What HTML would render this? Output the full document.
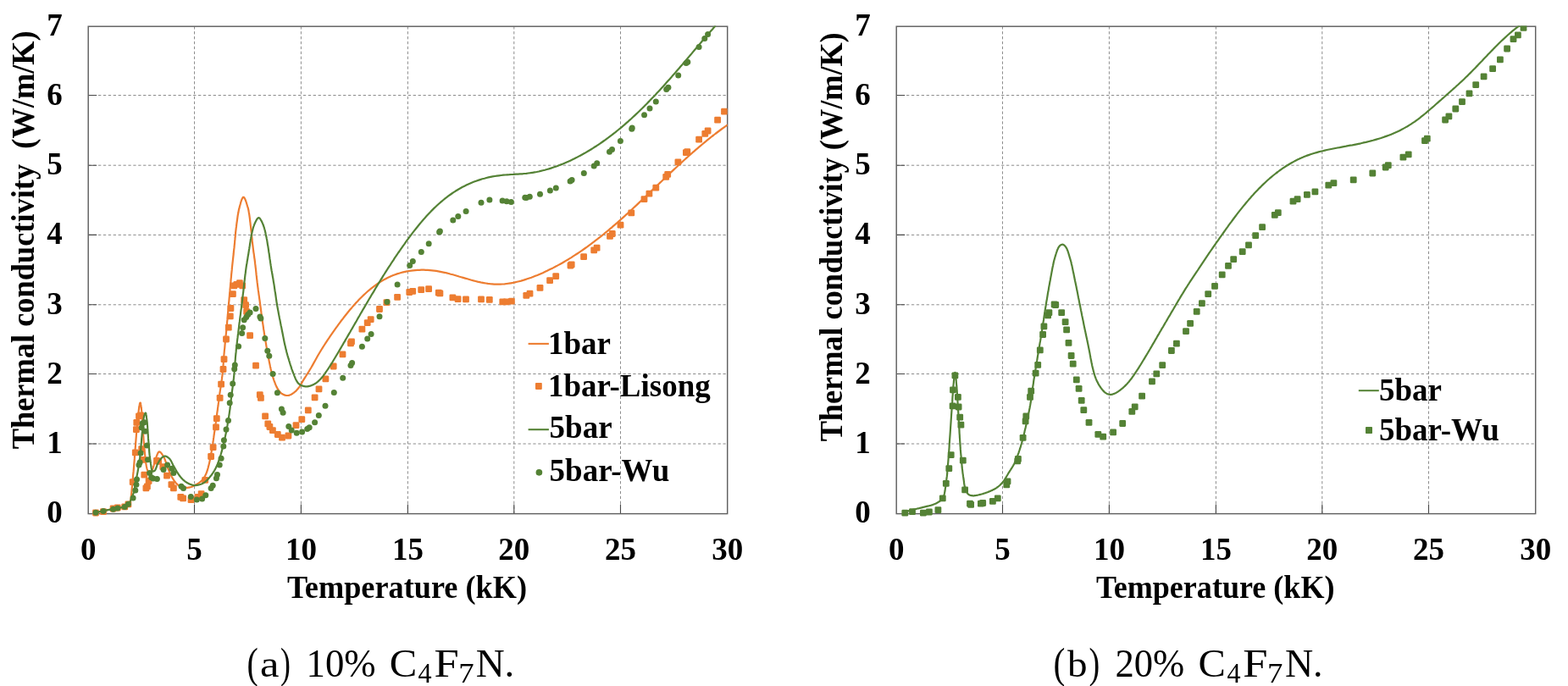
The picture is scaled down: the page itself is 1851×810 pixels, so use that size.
<!DOCTYPE html>
<html><head><meta charset="utf-8"><title>Thermal conductivity</title>
<style>html,body{margin:0;padding:0;background:#fff;width:1851px;height:810px;overflow:hidden}svg{display:block}</style>
</head><body>
<svg width="1851" height="810" viewBox="0 0 1851 810">
<defs><clipPath id="cl"><rect x="104.2" y="30.5" width="754.5" height="581.4"/></clipPath><clipPath id="cr"><rect x="1058.2" y="30.5" width="754.5" height="581.4"/></clipPath></defs>
<rect width="1851" height="810" fill="#fff"/>
<g font-family="'Liberation Serif', serif" font-weight="bold" fill="#000">
<path d="M104.2,524.00 H858.7 M104.2,441.50 H858.7 M104.2,359.80 H858.7 M104.2,277.40 H858.7 M104.2,195.20 H858.7 M104.2,112.50 H858.7 M229.50,31.2 V606.6 M355.40,31.2 V606.6 M481.40,31.2 V606.6 M606.80,31.2 V606.6 M732.50,31.2 V606.6" stroke="#8c8c8c" stroke-width="1" stroke-dasharray="3.3 2.6" fill="none"/>
<path d="M104.2,524.00 h10 M104.2,441.50 h10 M104.2,359.80 h10 M104.2,277.40 h10 M104.2,195.20 h10 M104.2,112.50 h10 M229.50,606.6 v-11 M355.40,606.6 v-11 M481.40,606.6 v-11 M606.80,606.6 v-11 M732.50,606.6 v-11" stroke="#474747" stroke-width="1.1" fill="none"/>
<rect x="104.2" y="31.2" width="754.5" height="575.4" fill="none" stroke="#606060" stroke-width="1.45"/>
<g font-size="37"><text x="64.6" y="617.4" text-anchor="middle">0</text><text x="64.6" y="535.0" text-anchor="middle">1</text><text x="64.6" y="452.5" text-anchor="middle">2</text><text x="64.6" y="370.8" text-anchor="middle">3</text><text x="64.6" y="288.4" text-anchor="middle">4</text><text x="64.6" y="206.2" text-anchor="middle">5</text><text x="64.6" y="123.5" text-anchor="middle">6</text><text x="64.6" y="42.2" text-anchor="middle">7</text><text x="104.2" y="660.6" text-anchor="middle">0</text><text x="229.5" y="660.6" text-anchor="middle">5</text><text x="355.4" y="660.6" text-anchor="middle">10</text><text x="481.4" y="660.6" text-anchor="middle">15</text><text x="606.8" y="660.6" text-anchor="middle">20</text><text x="732.5" y="660.6" text-anchor="middle">25</text><text x="858.7" y="660.6" text-anchor="middle">30</text></g>
<g clip-path="url(#cl)">
<g fill="#ED7D31"><rect x="109.1" y="601.6" width="7.8" height="7.8" rx="1.3"/><rect x="118.1" y="600.2" width="7.8" height="7.8" rx="1.3"/><rect x="129.7" y="596.6" width="7.8" height="7.8" rx="1.3"/><rect x="134.9" y="595.6" width="7.8" height="7.8" rx="1.3"/><rect x="143.3" y="594.5" width="7.8" height="7.8" rx="1.3"/><rect x="147.5" y="591.4" width="7.8" height="7.8" rx="1.3"/><rect x="152.8" y="565.2" width="7.8" height="7.8" rx="1.3"/><rect x="155.9" y="530.5" width="7.8" height="7.8" rx="1.3"/><rect x="157.0" y="503.3" width="7.8" height="7.8" rx="1.3"/><rect x="157.4" y="494.9" width="7.8" height="7.8" rx="1.3"/><rect x="160.1" y="487.5" width="7.8" height="7.8" rx="1.3"/><rect x="162.2" y="486.5" width="7.8" height="7.8" rx="1.3"/><rect x="163.3" y="526.3" width="7.8" height="7.8" rx="1.3"/><rect x="165.4" y="538.9" width="7.8" height="7.8" rx="1.3"/><rect x="166.4" y="556.8" width="7.8" height="7.8" rx="1.3"/><rect x="168.5" y="572.5" width="7.8" height="7.8" rx="1.3"/><rect x="170.0" y="570.4" width="7.8" height="7.8" rx="1.3"/><rect x="171.7" y="564.1" width="7.8" height="7.8" rx="1.3"/><rect x="181.1" y="540.0" width="7.8" height="7.8" rx="1.3"/><rect x="183.2" y="541.0" width="7.8" height="7.8" rx="1.3"/><rect x="188.4" y="547.3" width="7.8" height="7.8" rx="1.3"/><rect x="193.1" y="557.8" width="7.8" height="7.8" rx="1.3"/><rect x="198.5" y="568.3" width="7.8" height="7.8" rx="1.3"/><rect x="201.0" y="572.5" width="7.8" height="7.8" rx="1.3"/><rect x="209.4" y="583.0" width="7.8" height="7.8" rx="1.3"/><rect x="212.2" y="584.5" width="7.8" height="7.8" rx="1.3"/><rect x="221.6" y="586.2" width="7.8" height="7.8" rx="1.3"/><rect x="229.5" y="583.0" width="7.8" height="7.8" rx="1.3"/><rect x="233.7" y="579.2" width="7.8" height="7.8" rx="1.3"/><rect x="238.3" y="563.0" width="7.8" height="7.8" rx="1.3"/><rect x="245.2" y="535.1" width="7.8" height="7.8" rx="1.3"/><rect x="247.7" y="524.2" width="7.8" height="7.8" rx="1.3"/><rect x="251.1" y="500.5" width="7.8" height="7.8" rx="1.3"/><rect x="251.9" y="490.2" width="7.8" height="7.8" rx="1.3"/><rect x="255.7" y="465.9" width="7.8" height="7.8" rx="1.3"/><rect x="257.2" y="449.7" width="7.8" height="7.8" rx="1.3"/><rect x="259.6" y="432.1" width="7.8" height="7.8" rx="1.3"/><rect x="260.6" y="420.3" width="7.8" height="7.8" rx="1.3"/><rect x="263.1" y="396.6" width="7.8" height="7.8" rx="1.3"/><rect x="265.9" y="382.8" width="7.8" height="7.8" rx="1.3"/><rect x="267.9" y="369.4" width="7.8" height="7.8" rx="1.3"/><rect x="268.5" y="360.1" width="7.8" height="7.8" rx="1.3"/><rect x="271.0" y="343.3" width="7.8" height="7.8" rx="1.3"/><rect x="272.4" y="333.5" width="7.8" height="7.8" rx="1.3"/><rect x="275.4" y="332.0" width="7.8" height="7.8" rx="1.3"/><rect x="279.0" y="330.2" width="7.8" height="7.8" rx="1.3"/><rect x="282.3" y="333.5" width="7.8" height="7.8" rx="1.3"/><rect x="284.3" y="350.2" width="7.8" height="7.8" rx="1.3"/><rect x="286.2" y="356.2" width="7.8" height="7.8" rx="1.3"/><rect x="287.2" y="364.1" width="7.8" height="7.8" rx="1.3"/><rect x="291.2" y="392.3" width="7.8" height="7.8" rx="1.3"/><rect x="298.1" y="427.8" width="7.8" height="7.8" rx="1.3"/><rect x="302.9" y="462.3" width="7.8" height="7.8" rx="1.3"/><rect x="304.0" y="465.9" width="7.8" height="7.8" rx="1.3"/><rect x="309.2" y="487.5" width="7.8" height="7.8" rx="1.3"/><rect x="312.4" y="496.5" width="7.8" height="7.8" rx="1.3"/><rect x="314.5" y="500.1" width="7.8" height="7.8" rx="1.3"/><rect x="318.0" y="504.3" width="7.8" height="7.8" rx="1.3"/><rect x="323.9" y="509.1" width="7.8" height="7.8" rx="1.3"/><rect x="329.1" y="512.7" width="7.8" height="7.8" rx="1.3"/><rect x="336.5" y="510.6" width="7.8" height="7.8" rx="1.3"/><rect x="345.6" y="498.3" width="7.8" height="7.8" rx="1.3"/><rect x="352.4" y="491.2" width="7.8" height="7.8" rx="1.3"/><rect x="359.9" y="480.4" width="7.8" height="7.8" rx="1.3"/><rect x="367.7" y="465.5" width="7.8" height="7.8" rx="1.3"/><rect x="372.6" y="455.4" width="7.8" height="7.8" rx="1.3"/><rect x="380.5" y="443.4" width="7.8" height="7.8" rx="1.3"/><rect x="389.8" y="428.6" width="7.8" height="7.8" rx="1.3"/><rect x="400.6" y="414.4" width="7.8" height="7.8" rx="1.3"/><rect x="410.1" y="401.4" width="7.8" height="7.8" rx="1.3"/><rect x="411.1" y="399.4" width="7.8" height="7.8" rx="1.3"/><rect x="423.5" y="384.8" width="7.8" height="7.8" rx="1.3"/><rect x="429.8" y="377.3" width="7.8" height="7.8" rx="1.3"/><rect x="433.8" y="373.3" width="7.8" height="7.8" rx="1.3"/><rect x="444.1" y="361.1" width="7.8" height="7.8" rx="1.3"/><rect x="452.5" y="353.2" width="7.8" height="7.8" rx="1.3"/><rect x="465.2" y="347.0" width="7.8" height="7.8" rx="1.3"/><rect x="479.4" y="341.1" width="7.8" height="7.8" rx="1.3"/><rect x="483.3" y="340.0" width="7.8" height="7.8" rx="1.3"/><rect x="493.3" y="338.3" width="7.8" height="7.8" rx="1.3"/><rect x="502.2" y="337.2" width="7.8" height="7.8" rx="1.3"/><rect x="513.9" y="341.7" width="7.8" height="7.8" rx="1.3"/><rect x="515.5" y="342.5" width="7.8" height="7.8" rx="1.3"/><rect x="530.5" y="347.4" width="7.8" height="7.8" rx="1.3"/><rect x="536.7" y="349.2" width="7.8" height="7.8" rx="1.3"/><rect x="546.1" y="349.4" width="7.8" height="7.8" rx="1.3"/><rect x="564.1" y="349.4" width="7.8" height="7.8" rx="1.3"/><rect x="573.9" y="350.0" width="7.8" height="7.8" rx="1.3"/><rect x="589.4" y="352.5" width="7.8" height="7.8" rx="1.3"/><rect x="593.9" y="352.5" width="7.8" height="7.8" rx="1.3"/><rect x="600.0" y="351.7" width="7.8" height="7.8" rx="1.3"/><rect x="617.4" y="344.9" width="7.8" height="7.8" rx="1.3"/><rect x="621.6" y="342.8" width="7.8" height="7.8" rx="1.3"/><rect x="633.6" y="335.9" width="7.8" height="7.8" rx="1.3"/><rect x="645.2" y="327.2" width="7.8" height="7.8" rx="1.3"/><rect x="652.3" y="322.2" width="7.8" height="7.8" rx="1.3"/><rect x="669.6" y="309.6" width="7.8" height="7.8" rx="1.3"/><rect x="670.8" y="308.4" width="7.8" height="7.8" rx="1.3"/><rect x="685.2" y="299.2" width="7.8" height="7.8" rx="1.3"/><rect x="697.3" y="291.4" width="7.8" height="7.8" rx="1.3"/><rect x="700.7" y="288.8" width="7.8" height="7.8" rx="1.3"/><rect x="716.1" y="275.0" width="7.8" height="7.8" rx="1.3"/><rect x="718.9" y="272.1" width="7.8" height="7.8" rx="1.3"/><rect x="728.6" y="261.8" width="7.8" height="7.8" rx="1.3"/><rect x="741.4" y="247.4" width="7.8" height="7.8" rx="1.3"/><rect x="756.6" y="231.2" width="7.8" height="7.8" rx="1.3"/><rect x="762.5" y="224.7" width="7.8" height="7.8" rx="1.3"/><rect x="770.4" y="217.8" width="7.8" height="7.8" rx="1.3"/><rect x="782.3" y="204.9" width="7.8" height="7.8" rx="1.3"/><rect x="784.3" y="201.9" width="7.8" height="7.8" rx="1.3"/><rect x="796.5" y="187.5" width="7.8" height="7.8" rx="1.3"/><rect x="806.0" y="176.3" width="7.8" height="7.8" rx="1.3"/><rect x="807.4" y="175.3" width="7.8" height="7.8" rx="1.3"/><rect x="821.2" y="160.8" width="7.8" height="7.8" rx="1.3"/><rect x="828.4" y="153.9" width="7.8" height="7.8" rx="1.3"/><rect x="831.7" y="150.6" width="7.8" height="7.8" rx="1.3"/><rect x="843.2" y="137.7" width="7.8" height="7.8" rx="1.3"/><rect x="851.1" y="127.8" width="7.8" height="7.8" rx="1.3"/></g>
<path d="M112.0,605.3 L112.7,605.2 L113.5,605.0 L114.2,604.9 L115.0,604.7 L115.7,604.6 L116.4,604.4 L117.2,604.3 L117.9,604.1 L118.7,604.0 L119.4,603.8 L120.2,603.7 L121.0,603.5 L121.9,603.3 L122.9,603.1 L123.9,602.9 L124.9,602.7 L126.0,602.4 L127.0,602.2 L128.0,602.0 L129.1,601.8 L130.1,601.6 L131.1,601.4 L132.1,601.2 L133.0,601.0 L133.8,600.9 L134.6,600.7 L135.3,600.6 L136.1,600.5 L136.9,600.4 L137.6,600.3 L138.4,600.2 L139.1,600.1 L139.8,599.9 L140.5,599.8 L141.3,599.7 L142.0,599.5 L142.7,599.3 L143.4,599.1 L144.2,598.9 L144.9,598.7 L145.6,598.5 L146.3,598.3 L147.0,598.1 L147.7,597.8 L148.3,597.6 L148.9,597.4 L149.5,597.2 L150.0,597.0 L150.3,596.9 L150.5,596.8 L150.8,596.7 L151.0,596.6 L151.2,596.6 L151.4,596.5 L151.6,596.4 L151.8,596.3 L152.0,596.1 L152.2,596.0 L152.4,595.8 L152.6,595.5 L153.2,594.3 L153.7,592.7 L154.2,590.6 L154.6,588.1 L154.9,585.4 L155.2,582.5 L155.5,579.4 L155.8,576.2 L156.1,572.9 L156.3,569.7 L156.6,566.6 L156.9,563.6 L157.2,560.2 L157.6,556.7 L157.9,553.1 L158.2,549.4 L158.5,545.6 L158.8,541.9 L159.0,538.1 L159.3,534.4 L159.6,530.8 L159.9,527.2 L160.1,523.7 L160.4,520.4 L160.6,517.7 L160.8,515.1 L161.0,512.4 L161.3,509.8 L161.5,507.3 L161.7,504.8 L161.9,502.3 L162.1,499.9 L162.3,497.5 L162.5,495.3 L162.8,493.1 L163.0,491.0 L163.2,489.4 L163.4,487.8 L163.6,486.0 L163.8,484.3 L164.0,482.6 L164.2,481.0 L164.4,479.5 L164.7,478.2 L164.9,477.1 L165.1,476.2 L165.3,475.7 L165.5,475.5 L165.7,475.6 L165.8,476.0 L166.0,476.5 L166.1,477.2 L166.3,478.1 L166.4,479.1 L166.6,480.2 L166.7,481.3 L166.9,482.5 L167.0,483.6 L167.2,484.8 L167.3,485.9 L167.5,487.6 L167.7,489.5 L167.8,491.5 L167.9,493.6 L168.1,495.8 L168.2,498.1 L168.3,500.4 L168.4,502.7 L168.6,505.0 L168.7,507.3 L168.8,509.6 L169.0,511.8 L169.2,514.1 L169.4,516.5 L169.5,519.0 L169.7,521.4 L169.9,523.9 L170.1,526.4 L170.3,528.8 L170.6,531.2 L170.8,533.6 L171.0,535.8 L171.3,538.0 L171.5,540.0 L171.7,541.4 L171.8,542.9 L172.0,544.3 L172.2,545.7 L172.3,547.0 L172.5,548.3 L172.7,549.6 L172.9,550.8 L173.2,552.0 L173.4,553.0 L173.7,554.1 L174.0,555.0 L174.2,555.6 L174.4,556.1 L174.7,556.7 L174.9,557.3 L175.2,557.8 L175.4,558.3 L175.7,558.8 L176.0,559.2 L176.2,559.5 L176.5,559.8 L176.7,559.9 L177.0,560.0 L177.3,559.9 L177.6,559.7 L177.9,559.3 L178.2,558.8 L178.5,558.2 L178.8,557.5 L179.1,556.8 L179.4,556.0 L179.7,555.2 L179.9,554.5 L180.2,553.7 L180.5,553.0 L180.8,552.1 L181.1,551.2 L181.4,550.2 L181.7,549.2 L181.9,548.1 L182.2,547.0 L182.5,546.0 L182.8,544.9 L183.0,543.9 L183.3,542.9 L183.7,541.9 L184.0,541.0 L184.3,540.2 L184.6,539.4 L184.9,538.6 L185.2,537.8 L185.5,537.0 L185.8,536.2 L186.2,535.5 L186.5,534.8 L186.9,534.3 L187.2,533.8 L187.6,533.5 L188.0,533.4 L188.4,533.4 L188.8,533.6 L189.2,533.9 L189.7,534.3 L190.1,534.8 L190.6,535.3 L191.1,536.0 L191.5,536.6 L192.0,537.3 L192.4,538.0 L192.8,538.7 L193.2,539.4 L193.7,540.3 L194.2,541.3 L194.6,542.4 L195.0,543.5 L195.4,544.7 L195.8,545.9 L196.2,547.2 L196.6,548.4 L197.0,549.7 L197.5,550.9 L197.9,552.1 L198.4,553.3 L198.9,554.5 L199.4,555.7 L200.0,556.9 L200.5,558.2 L201.1,559.4 L201.6,560.6 L202.2,561.8 L202.8,563.0 L203.4,564.1 L204.0,565.2 L204.7,566.2 L205.3,567.1 L205.8,567.8 L206.3,568.5 L206.9,569.2 L207.4,569.9 L207.9,570.5 L208.5,571.1 L209.1,571.7 L209.6,572.2 L210.2,572.7 L210.9,573.2 L211.5,573.6 L212.2,574.0 L213.0,574.4 L213.7,574.7 L214.6,574.9 L215.4,575.2 L216.3,575.4 L217.2,575.5 L218.1,575.6 L219.1,575.7 L219.9,575.8 L220.8,575.8 L221.7,575.8 L222.5,575.7 L223.3,575.6 L224.0,575.4 L224.8,575.2 L225.6,575.0 L226.3,574.7 L227.0,574.4 L227.8,574.1 L228.5,573.7 L229.2,573.4 L229.9,573.0 L230.5,572.7 L231.2,572.3 L231.8,572.0 L232.4,571.7 L232.9,571.4 L233.5,571.1 L234.1,570.7 L234.6,570.4 L235.1,570.0 L235.6,569.6 L236.1,569.3 L236.6,568.9 L237.1,568.4 L237.6,568.0 L238.1,567.5 L238.6,567.0 L239.0,566.4 L239.5,565.9 L240.0,565.3 L240.4,564.7 L240.8,564.1 L241.2,563.4 L241.6,562.7 L242.0,562.1 L242.4,561.3 L242.8,560.6 L243.2,559.6 L243.7,558.6 L244.0,557.6 L244.4,556.5 L244.8,555.4 L245.1,554.2 L245.5,553.0 L245.8,551.8 L246.1,550.6 L246.4,549.4 L246.7,548.2 L247.0,547.0 L247.3,545.7 L247.6,544.3 L247.9,543.0 L248.2,541.6 L248.5,540.2 L248.7,538.8 L249.0,537.4 L249.2,536.0 L249.5,534.6 L249.7,533.1 L250.0,531.7 L250.2,530.2 L250.5,528.5 L250.7,526.9 L251.0,525.1 L251.3,523.4 L251.5,521.7 L251.8,519.9 L252.0,518.2 L252.3,516.4 L252.5,514.6 L252.8,512.8 L253.0,511.0 L253.3,509.2 L253.6,507.3 L253.8,505.4 L254.1,503.5 L254.4,501.6 L254.7,499.7 L254.9,497.8 L255.2,495.8 L255.5,493.9 L255.7,492.0 L256.0,490.1 L256.2,488.1 L256.5,486.2 L256.8,484.3 L257.0,482.4 L257.3,480.4 L257.6,478.5 L257.8,476.6 L258.1,474.7 L258.3,472.7 L258.6,470.8 L258.8,468.9 L259.1,467.0 L259.3,465.0 L259.6,463.1 L259.9,461.2 L260.2,459.2 L260.5,457.3 L260.7,455.4 L261.0,453.4 L261.3,451.5 L261.6,449.6 L261.9,447.7 L262.1,445.7 L262.4,443.8 L262.6,441.9 L262.8,440.0 L263.0,438.2 L263.2,436.4 L263.3,434.6 L263.4,432.9 L263.6,431.1 L263.7,429.3 L263.8,427.6 L263.9,425.8 L264.1,424.0 L264.2,422.1 L264.3,420.2 L264.5,418.3 L264.7,416.0 L264.9,413.7 L265.2,411.3 L265.4,408.8 L265.6,406.4 L265.9,403.9 L266.1,401.4 L266.4,398.9 L266.6,396.3 L266.9,393.8 L267.1,391.3 L267.4,388.7 L267.6,386.0 L267.9,383.2 L268.1,380.5 L268.4,377.7 L268.6,374.9 L268.9,372.1 L269.1,369.2 L269.4,366.4 L269.6,363.6 L269.9,360.7 L270.1,357.9 L270.4,355.1 L270.6,352.3 L270.9,349.5 L271.1,346.7 L271.4,343.9 L271.6,341.1 L271.9,338.3 L272.1,335.5 L272.4,332.7 L272.6,329.9 L272.9,327.1 L273.1,324.4 L273.4,321.6 L273.7,318.9 L273.9,316.2 L274.2,313.5 L274.5,310.7 L274.8,308.0 L275.1,305.3 L275.4,302.6 L275.7,300.0 L275.9,297.4 L276.2,294.9 L276.5,292.4 L276.7,290.0 L276.9,288.1 L277.1,286.3 L277.2,284.6 L277.4,282.9 L277.5,281.2 L277.7,279.6 L277.8,277.9 L278.0,276.3 L278.1,274.6 L278.3,272.9 L278.5,271.2 L278.7,269.4 L279.0,267.4 L279.2,265.3 L279.5,263.1 L279.8,261.0 L280.1,258.8 L280.4,256.6 L280.7,254.4 L281.1,252.3 L281.5,250.3 L281.8,248.3 L282.3,246.4 L282.7,244.7 L283.0,243.5 L283.4,242.2 L283.8,240.8 L284.1,239.5 L284.5,238.2 L284.9,237.0 L285.3,235.8 L285.8,234.8 L286.2,234.0 L286.6,233.3 L287.0,232.9 L287.4,232.8 L287.8,232.9 L288.2,233.3 L288.7,234.0 L289.1,234.8 L289.6,235.8 L290.0,237.0 L290.5,238.2 L290.9,239.5 L291.3,240.8 L291.7,242.2 L292.1,243.5 L292.5,244.7 L293.0,246.4 L293.4,248.3 L293.7,250.2 L294.1,252.3 L294.4,254.4 L294.7,256.6 L295.0,258.8 L295.2,261.0 L295.5,263.1 L295.7,265.3 L296.0,267.4 L296.2,269.4 L296.4,271.2 L296.6,273.0 L296.8,274.7 L297.0,276.4 L297.2,278.1 L297.3,279.9 L297.5,281.5 L297.7,283.2 L297.8,284.9 L298.0,286.6 L298.2,288.3 L298.4,290.0 L298.6,291.6 L298.8,293.3 L299.0,294.9 L299.2,296.5 L299.4,298.1 L299.7,299.7 L299.9,301.3 L300.1,302.9 L300.3,304.6 L300.6,306.3 L300.8,308.0 L301.0,309.7 L301.2,311.7 L301.5,313.8 L301.7,315.8 L302.0,317.9 L302.2,320.1 L302.4,322.2 L302.6,324.4 L302.9,326.6 L303.1,328.8 L303.4,331.0 L303.6,333.2 L303.9,335.4 L304.2,337.8 L304.5,340.2 L304.8,342.7 L305.2,345.1 L305.5,347.6 L305.9,350.1 L306.2,352.6 L306.6,355.1 L306.9,357.6 L307.2,360.1 L307.6,362.6 L307.9,365.0 L308.2,367.3 L308.5,369.7 L308.9,372.0 L309.2,374.4 L309.5,376.7 L309.8,379.0 L310.1,381.3 L310.5,383.6 L310.8,385.9 L311.1,388.2 L311.5,390.4 L311.8,392.6 L312.1,394.6 L312.5,396.7 L312.8,398.7 L313.1,400.7 L313.4,402.7 L313.8,404.7 L314.1,406.7 L314.4,408.6 L314.8,410.6 L315.1,412.5 L315.5,414.4 L315.8,416.3 L316.1,418.0 L316.4,419.7 L316.8,421.4 L317.1,423.1 L317.4,424.8 L317.7,426.5 L318.0,428.1 L318.4,429.8 L318.7,431.4 L319.0,432.9 L319.4,434.5 L319.7,436.0 L320.0,437.3 L320.3,438.5 L320.6,439.7 L320.9,440.9 L321.3,442.1 L321.6,443.3 L321.9,444.4 L322.3,445.6 L322.6,446.7 L323.0,447.8 L323.3,448.8 L323.7,449.9 L324.0,450.8 L324.4,451.6 L324.7,452.5 L325.0,453.4 L325.4,454.2 L325.7,455.0 L326.1,455.8 L326.4,456.6 L326.8,457.4 L327.2,458.1 L327.6,458.8 L328.0,459.5 L328.4,460.0 L328.8,460.6 L329.1,461.1 L329.5,461.6 L329.9,462.1 L330.3,462.6 L330.7,463.0 L331.1,463.5 L331.6,463.9 L332.0,464.3 L332.5,464.7 L333.0,465.0 L333.5,465.3 L334.0,465.6 L334.6,465.9 L335.1,466.1 L335.7,466.4 L336.3,466.6 L336.9,466.7 L337.5,466.9 L338.1,467.0 L338.8,467.0 L339.4,467.0 L340.0,467.0 L340.8,466.9 L341.6,466.6 L342.4,466.3 L343.3,465.9 L344.1,465.5 L345.0,465.0 L345.8,464.4 L346.7,463.8 L347.5,463.2 L348.3,462.5 L349.1,461.8 L349.9,461.1 L350.8,460.1 L351.7,459.1 L352.5,458.0 L353.4,456.8 L354.2,455.5 L355.0,454.2 L355.8,452.9 L356.6,451.6 L357.3,450.2 L358.1,448.9 L358.9,447.6 L359.7,446.3 L360.0,445.8 L361.5,443.5 L363.0,441.1 L364.5,438.8 L366.0,436.3 L367.5,433.8 L369.0,431.1 L370.5,428.4 L372.0,425.7 L373.5,423.0 L375.0,420.3 L376.5,417.7 L378.0,415.2 L379.5,412.7 L381.0,410.3 L382.5,408.0 L384.0,405.7 L384.2,405.4 L385.5,403.4 L386.8,401.4 L388.2,399.4 L389.5,397.4 L390.9,395.4 L392.3,393.4 L393.7,391.4 L395.1,389.4 L396.5,387.4 L398.0,385.4 L399.4,383.4 L400.9,381.4 L402.4,379.3 L404.0,377.3 L405.5,375.3 L407.1,373.3 L408.7,371.3 L410.3,369.3 L411.9,367.3 L413.5,365.3 L415.2,363.4 L416.9,361.4 L418.6,359.5 L420.3,357.6 L422.1,355.7 L423.8,353.8 L425.6,352.0 L427.4,350.2 L429.3,348.4 L431.1,346.7 L433.0,345.0 L434.9,343.3 L436.9,341.7 L438.8,340.1 L440.8,338.6 L442.8,337.1 L444.8,335.6 L446.9,334.2 L448.9,332.9 L451.0,331.6 L453.2,330.3 L455.3,329.2 L457.5,328.0 L459.7,327.0 L461.9,326.0 L464.2,325.1 L466.5,324.2 L468.8,323.4 L471.1,322.7 L473.4,322.0 L475.8,321.4 L478.2,320.9 L480.5,320.4 L482.9,320.0 L485.4,319.6 L487.8,319.3 L490.2,319.1 L492.7,318.9 L495.1,318.8 L497.6,318.7 L500.1,318.7 L502.6,318.8 L505.0,318.9 L507.5,319.1 L510.0,319.3 L512.5,319.6 L514.9,319.9 L517.4,320.3 L519.9,320.8 L522.3,321.3 L524.8,321.8 L527.3,322.4 L529.7,323.0 L532.1,323.7 L534.6,324.3 L537.0,325.0 L539.5,325.7 L541.9,326.5 L544.4,327.2 L546.8,327.9 L549.2,328.6 L551.7,329.3 L554.1,330.0 L556.5,330.7 L559.0,331.4 L561.4,332.0 L563.8,332.6 L566.3,333.1 L568.7,333.7 L571.1,334.1 L573.6,334.5 L576.0,334.9 L578.5,335.2 L580.9,335.4 L583.3,335.6 L585.8,335.7 L588.2,335.7 L590.7,335.6 L593.2,335.5 L595.6,335.3 L598.1,335.0 L600.5,334.7 L603.0,334.3 L605.4,333.9 L607.9,333.4 L610.3,332.8 L612.7,332.2 L615.2,331.6 L617.6,330.9 L620.0,330.1 L622.4,329.3 L624.8,328.5 L627.2,327.7 L629.6,326.8 L632.0,325.8 L634.3,324.9 L636.6,323.9 L639.0,322.9 L641.3,321.9 L643.6,320.8 L645.9,319.7 L648.2,318.6 L650.4,317.5 L652.7,316.4 L654.9,315.2 L657.1,314.1 L659.3,312.9 L661.5,311.7 L663.7,310.5 L665.8,309.2 L668.0,307.9 L670.1,306.7 L672.2,305.4 L674.4,304.1 L676.5,302.7 L678.5,301.4 L680.6,300.0 L682.7,298.7 L684.7,297.3 L686.8,295.9 L688.8,294.5 L690.9,293.0 L692.9,291.6 L694.9,290.1 L696.9,288.7 L698.9,287.2 L700.9,285.7 L702.8,284.2 L704.8,282.7 L706.7,281.2 L708.7,279.6 L710.6,278.1 L712.6,276.5 L714.5,274.9 L716.4,273.4 L718.3,271.8 L720.2,270.2 L722.1,268.6 L724.0,266.9 L725.9,265.3 L727.8,263.7 L729.6,262.0 L731.5,260.4 L733.4,258.7 L735.2,257.1 L737.1,255.4 L738.9,253.7 L740.8,252.1 L742.6,250.4 L744.5,248.7 L746.3,247.0 L748.1,245.3 L749.9,243.6 L751.8,241.9 L753.6,240.1 L755.4,238.4 L757.2,236.7 L759.0,235.0 L760.9,233.3 L762.7,231.5 L764.5,229.8 L766.3,228.1 L768.1,226.3 L769.9,224.6 L771.7,222.9 L773.5,221.1 L775.3,219.4 L777.1,217.7 L779.0,215.9 L780.8,214.2 L782.6,212.5 L784.4,210.7 L786.2,209.0 L788.0,207.3 L789.8,205.6 L791.7,203.8 L793.5,202.1 L795.3,200.4 L797.1,198.7 L799.0,197.0 L800.8,195.3 L802.6,193.6 L804.5,191.9 L806.3,190.2 L808.2,188.5 L810.0,186.9 L811.9,185.2 L813.8,183.5 L815.6,181.9 L817.5,180.2 L819.4,178.6 L821.3,176.9 L823.2,175.3 L825.1,173.7 L827.0,172.1 L828.9,170.5 L830.8,168.9 L832.7,167.3 L834.7,165.7 L836.6,164.1 L838.5,162.6 L840.5,161.0 L842.5,159.5 L844.4,158.0 L846.4,156.5 L848.4,155.0 L850.4,153.5 L852.4,152.0 L854.4,150.6 L856.5,149.1 L858.5,147.7" stroke="#ED7D31" stroke-width="2.2" fill="none" stroke-linejoin="round" stroke-linecap="round"/>
<g fill="#548235"><circle cx="113.0" cy="605.2" r="3.5"/><circle cx="122.0" cy="603.4" r="3.5"/><circle cx="133.6" cy="601.2" r="3.5"/><circle cx="138.8" cy="600.1" r="3.5"/><circle cx="147.2" cy="598.4" r="3.5"/><circle cx="151.4" cy="595.3" r="3.5"/><circle cx="157.1" cy="588.0" r="3.5"/><circle cx="159.8" cy="578.9" r="3.5"/><circle cx="160.9" cy="572.2" r="3.5"/><circle cx="161.5" cy="565.9" r="3.5"/><circle cx="164.0" cy="549.1" r="3.5"/><circle cx="165.1" cy="546.0" r="3.5"/><circle cx="166.1" cy="534.9" r="3.5"/><circle cx="167.2" cy="505.1" r="3.5"/><circle cx="168.2" cy="499.8" r="3.5"/><circle cx="170.3" cy="498.8" r="3.5"/><circle cx="171.4" cy="509.3" r="3.5"/><circle cx="173.5" cy="526.0" r="3.5"/><circle cx="174.5" cy="542.8" r="3.5"/><circle cx="176.6" cy="558.6" r="3.5"/><circle cx="178.7" cy="563.8" r="3.5"/><circle cx="180.8" cy="564.9" r="3.5"/><circle cx="185.4" cy="565.5" r="3.5"/><circle cx="193.0" cy="554.4" r="3.5"/><circle cx="197.6" cy="549.1" r="3.5"/><circle cx="202.8" cy="553.3" r="3.5"/><circle cx="204.9" cy="558.6" r="3.5"/><circle cx="214.0" cy="574.3" r="3.5"/><circle cx="216.5" cy="576.4" r="3.5"/><circle cx="225.3" cy="586.5" r="3.5"/><circle cx="232.3" cy="590.0" r="3.5"/><circle cx="238.6" cy="589.0" r="3.5"/><circle cx="242.8" cy="584.8" r="3.5"/><circle cx="249.1" cy="576.4" r="3.5"/><circle cx="251.2" cy="573.2" r="3.5"/><circle cx="255.4" cy="564.8" r="3.5"/><circle cx="256.5" cy="560.6" r="3.5"/><circle cx="259.2" cy="549.1" r="3.5"/><circle cx="261.1" cy="541.3" r="3.5"/><circle cx="263.8" cy="527.1" r="3.5"/><circle cx="264.4" cy="519.7" r="3.5"/><circle cx="267.0" cy="507.1" r="3.5"/><circle cx="269.5" cy="496.6" r="3.5"/><circle cx="271.2" cy="475.7" r="3.5"/><circle cx="272.2" cy="466.2" r="3.5"/><circle cx="274.7" cy="453.0" r="3.5"/><circle cx="276.7" cy="435.7" r="3.5"/><circle cx="277.3" cy="431.1" r="3.5"/><circle cx="281.6" cy="409.0" r="3.5"/><circle cx="285.6" cy="393.6" r="3.5"/><circle cx="286.6" cy="386.7" r="3.5"/><circle cx="288.2" cy="377.8" r="3.5"/><circle cx="290.7" cy="374.5" r="3.5"/><circle cx="292.7" cy="371.5" r="3.5"/><circle cx="295.1" cy="368.9" r="3.5"/><circle cx="302.0" cy="364.6" r="3.5"/><circle cx="306.9" cy="373.9" r="3.5"/><circle cx="307.9" cy="375.9" r="3.5"/><circle cx="312.8" cy="399.5" r="3.5"/><circle cx="315.8" cy="414.3" r="3.5"/><circle cx="317.8" cy="420.3" r="3.5"/><circle cx="322.1" cy="441.6" r="3.5"/><circle cx="327.4" cy="463.7" r="3.5"/><circle cx="332.4" cy="483.0" r="3.5"/><circle cx="334.1" cy="487.2" r="3.5"/><circle cx="340.8" cy="503.6" r="3.5"/><circle cx="344.2" cy="508.0" r="3.5"/><circle cx="350.2" cy="511.2" r="3.5"/><circle cx="356.6" cy="510.1" r="3.5"/><circle cx="362.7" cy="506.5" r="3.5"/><circle cx="365.2" cy="504.7" r="3.5"/><circle cx="371.6" cy="498.7" r="3.5"/><circle cx="376.3" cy="490.4" r="3.5"/><circle cx="384.0" cy="479.3" r="3.5"/><circle cx="394.3" cy="463.5" r="3.5"/><circle cx="404.7" cy="446.3" r="3.5"/><circle cx="414.0" cy="431.5" r="3.5"/><circle cx="415.6" cy="428.6" r="3.5"/><circle cx="427.4" cy="409.2" r="3.5"/><circle cx="433.7" cy="399.9" r="3.5"/><circle cx="438.1" cy="394.6" r="3.5"/><circle cx="448.0" cy="373.7" r="3.5"/><circle cx="457.0" cy="356.5" r="3.5"/><circle cx="469.1" cy="336.1" r="3.5"/><circle cx="483.7" cy="313.4" r="3.5"/><circle cx="487.3" cy="308.4" r="3.5"/><circle cx="497.3" cy="297.5" r="3.5"/><circle cx="506.2" cy="287.7" r="3.5"/><circle cx="518.6" cy="273.9" r="3.5"/><circle cx="519.4" cy="272.9" r="3.5"/><circle cx="534.8" cy="260.0" r="3.5"/><circle cx="540.8" cy="255.5" r="3.5"/><circle cx="550.1" cy="249.6" r="3.5"/><circle cx="568.0" cy="239.3" r="3.5"/><circle cx="577.9" cy="236.1" r="3.5"/><circle cx="593.1" cy="236.9" r="3.5"/><circle cx="598.1" cy="237.7" r="3.5"/><circle cx="603.4" cy="238.5" r="3.5"/><circle cx="619.8" cy="233.3" r="3.5"/><circle cx="621.3" cy="233.6" r="3.5"/><circle cx="625.3" cy="232.3" r="3.5"/><circle cx="637.5" cy="229.3" r="3.5"/><circle cx="649.4" cy="225.0" r="3.5"/><circle cx="656.3" cy="222.0" r="3.5"/><circle cx="673.1" cy="214.1" r="3.5"/><circle cx="675.1" cy="212.5" r="3.5"/><circle cx="689.3" cy="204.6" r="3.5"/><circle cx="701.2" cy="196.1" r="3.5"/><circle cx="704.7" cy="192.7" r="3.5"/><circle cx="719.5" cy="179.3" r="3.5"/><circle cx="722.5" cy="176.5" r="3.5"/><circle cx="732.4" cy="166.5" r="3.5"/><circle cx="745.8" cy="152.2" r="3.5"/><circle cx="746.2" cy="150.9" r="3.5"/><circle cx="760.6" cy="135.8" r="3.5"/><circle cx="767.0" cy="127.9" r="3.5"/><circle cx="774.3" cy="120.0" r="3.5"/><circle cx="786.7" cy="105.6" r="3.5"/><circle cx="788.9" cy="103.3" r="3.5"/><circle cx="800.7" cy="88.9" r="3.5"/><circle cx="810.0" cy="74.4" r="3.5"/><circle cx="811.8" cy="73.3" r="3.5"/><circle cx="825.1" cy="55.6" r="3.5"/><circle cx="831.8" cy="45.6" r="3.5"/><circle cx="835.6" cy="40.4" r="3.5"/></g>
<path d="M112.0,605.3 L112.7,605.2 L113.5,605.0 L114.2,604.9 L115.0,604.7 L115.7,604.6 L116.4,604.4 L117.2,604.3 L117.9,604.1 L118.7,604.0 L119.4,603.8 L120.2,603.7 L121.0,603.5 L121.9,603.3 L122.9,603.1 L123.9,602.9 L124.9,602.7 L126.0,602.4 L127.0,602.2 L128.0,602.0 L129.1,601.8 L130.1,601.6 L131.1,601.4 L132.1,601.2 L133.0,601.0 L133.8,600.9 L134.6,600.7 L135.3,600.6 L136.1,600.5 L136.9,600.4 L137.6,600.3 L138.4,600.2 L139.1,600.1 L139.8,599.9 L140.5,599.8 L141.3,599.7 L142.0,599.5 L142.7,599.3 L143.4,599.2 L144.1,599.1 L144.8,598.9 L145.5,598.8 L146.2,598.7 L146.9,598.5 L147.5,598.3 L148.2,598.1 L148.8,597.8 L149.4,597.4 L150.0,597.0 L150.7,596.3 L151.4,595.6 L152.0,594.7 L152.6,593.8 L153.2,592.8 L153.8,591.8 L154.3,590.7 L154.8,589.5 L155.3,588.4 L155.8,587.2 L156.2,586.0 L156.7,584.8 L157.2,583.4 L157.7,582.0 L158.1,580.5 L158.4,579.0 L158.8,577.4 L159.1,575.8 L159.4,574.2 L159.7,572.6 L160.0,570.9 L160.3,569.3 L160.6,567.6 L160.9,565.9 L161.3,563.9 L161.6,562.0 L162.0,559.9 L162.4,557.9 L162.8,555.8 L163.1,553.8 L163.5,551.6 L163.8,549.5 L164.1,547.3 L164.5,545.2 L164.8,542.9 L165.1,540.7 L165.4,538.0 L165.7,535.2 L166.0,532.3 L166.3,529.4 L166.5,526.4 L166.8,523.4 L167.0,520.4 L167.2,517.5 L167.5,514.6 L167.7,511.9 L168.0,509.4 L168.2,507.0 L168.4,505.5 L168.5,503.9 L168.7,502.4 L168.8,501.0 L168.9,499.6 L169.1,498.2 L169.2,496.9 L169.4,495.7 L169.5,494.5 L169.7,493.4 L169.9,492.4 L170.1,491.5 L170.2,491.0 L170.4,490.6 L170.5,490.1 L170.7,489.7 L170.8,489.2 L171.0,488.8 L171.1,488.5 L171.2,488.2 L171.4,487.9 L171.5,487.7 L171.7,487.6 L171.8,487.6 L172.0,487.7 L172.1,488.0 L172.3,488.5 L172.4,489.0 L172.5,489.7 L172.7,490.5 L172.8,491.4 L172.9,492.3 L173.0,493.2 L173.2,494.2 L173.3,495.1 L173.4,496.0 L173.6,497.6 L173.8,499.3 L173.9,501.1 L174.1,503.0 L174.2,505.1 L174.3,507.2 L174.5,509.3 L174.6,511.5 L174.7,513.7 L174.9,515.8 L175.0,517.9 L175.2,520.0 L175.4,522.1 L175.5,524.3 L175.7,526.5 L175.9,528.7 L176.1,530.9 L176.2,533.1 L176.4,535.3 L176.6,537.4 L176.9,539.4 L177.1,541.4 L177.3,543.3 L177.6,545.0 L177.8,546.2 L177.9,547.4 L178.1,548.6 L178.3,549.8 L178.4,551.0 L178.6,552.2 L178.8,553.2 L179.0,554.2 L179.3,555.0 L179.5,555.7 L179.8,556.2 L180.2,556.5 L180.4,556.6 L180.6,556.6 L180.8,556.6 L181.0,556.6 L181.2,556.5 L181.5,556.4 L181.7,556.3 L181.9,556.2 L182.2,556.0 L182.4,555.9 L182.6,555.7 L182.8,555.5 L183.1,555.1 L183.4,554.6 L183.7,554.1 L184.0,553.4 L184.3,552.7 L184.5,552.0 L184.8,551.2 L185.1,550.4 L185.3,549.6 L185.6,548.9 L185.9,548.2 L186.2,547.5 L186.5,546.9 L186.9,546.3 L187.2,545.7 L187.5,545.1 L187.9,544.5 L188.2,544.0 L188.6,543.4 L189.0,542.8 L189.3,542.3 L189.7,541.8 L190.1,541.4 L190.5,541.0 L190.8,540.7 L191.2,540.4 L191.5,540.1 L191.8,539.8 L192.2,539.6 L192.5,539.4 L192.9,539.1 L193.2,539.0 L193.6,538.8 L194.0,538.7 L194.3,538.6 L194.7,538.6 L195.1,538.6 L195.6,538.7 L196.0,538.8 L196.5,539.0 L196.9,539.2 L197.4,539.5 L197.8,539.8 L198.3,540.1 L198.7,540.4 L199.2,540.8 L199.6,541.1 L200.0,541.5 L200.5,542.0 L200.9,542.6 L201.4,543.3 L201.8,544.0 L202.2,544.8 L202.6,545.5 L203.0,546.4 L203.4,547.2 L203.8,548.0 L204.2,548.9 L204.6,549.7 L205.1,550.5 L205.6,551.4 L206.2,552.4 L206.7,553.3 L207.3,554.3 L207.8,555.3 L208.4,556.3 L209.0,557.3 L209.6,558.2 L210.2,559.2 L210.8,560.1 L211.4,561.0 L212.0,561.8 L212.6,562.5 L213.1,563.2 L213.7,563.8 L214.2,564.5 L214.8,565.1 L215.4,565.7 L216.0,566.3 L216.6,566.8 L217.2,567.3 L217.8,567.9 L218.4,568.3 L219.0,568.8 L219.6,569.2 L220.1,569.6 L220.7,569.9 L221.3,570.3 L221.9,570.6 L222.5,570.9 L223.1,571.2 L223.7,571.4 L224.3,571.7 L224.9,571.9 L225.4,572.1 L226.0,572.3 L226.4,572.4 L226.9,572.6 L227.3,572.7 L227.7,572.8 L228.1,572.9 L228.6,573.0 L229.0,573.0 L229.4,573.1 L229.8,573.1 L230.3,573.1 L230.7,573.1 L231.2,573.1 L231.8,573.0 L232.5,572.9 L233.2,572.8 L234.0,572.6 L234.7,572.5 L235.5,572.2 L236.3,572.0 L237.0,571.8 L237.8,571.5 L238.5,571.2 L239.2,570.8 L239.8,570.5 L240.4,570.2 L241.0,569.8 L241.6,569.4 L242.1,569.0 L242.6,568.6 L243.2,568.1 L243.7,567.7 L244.2,567.2 L244.7,566.6 L245.2,566.1 L245.7,565.6 L246.2,565.0 L246.9,564.2 L247.6,563.4 L248.3,562.5 L249.1,561.6 L249.8,560.7 L250.5,559.7 L251.2,558.7 L251.9,557.6 L252.5,556.6 L253.2,555.5 L253.8,554.4 L254.4,553.3 L255.0,552.0 L255.6,550.7 L256.2,549.4 L256.8,548.1 L257.3,546.7 L257.8,545.3 L258.3,543.9 L258.8,542.4 L259.3,541.0 L259.8,539.5 L260.2,538.0 L260.7,536.5 L261.2,534.8 L261.7,533.2 L262.1,531.4 L262.6,529.7 L263.1,528.0 L263.5,526.2 L263.9,524.5 L264.3,522.7 L264.7,520.9 L265.1,519.1 L265.5,517.3 L265.9,515.5 L266.3,513.6 L266.7,511.7 L267.1,509.8 L267.4,507.9 L267.8,506.0 L268.1,504.1 L268.5,502.2 L268.8,500.2 L269.2,498.3 L269.5,496.3 L269.8,494.4 L270.1,492.4 L270.4,490.3 L270.7,488.3 L271.0,486.2 L271.3,484.1 L271.6,482.0 L271.8,479.9 L272.1,477.8 L272.3,475.7 L272.6,473.6 L272.8,471.5 L273.1,469.4 L273.3,467.3 L273.6,465.2 L273.9,463.1 L274.1,461.0 L274.4,458.9 L274.7,456.7 L275.0,454.6 L275.2,452.5 L275.5,450.4 L275.7,448.3 L276.0,446.2 L276.2,444.1 L276.4,442.0 L276.6,440.0 L276.8,438.1 L276.9,436.1 L277.1,434.2 L277.2,432.3 L277.4,430.4 L277.5,428.4 L277.6,426.5 L277.8,424.5 L277.9,422.5 L278.1,420.4 L278.3,418.3 L278.6,415.7 L278.8,413.0 L279.1,410.3 L279.5,407.5 L279.8,404.7 L280.1,401.8 L280.5,398.9 L280.8,396.0 L281.2,393.2 L281.5,390.3 L281.9,387.5 L282.2,384.7 L282.5,382.0 L282.9,379.4 L283.2,376.8 L283.5,374.2 L283.9,371.6 L284.2,368.9 L284.5,366.3 L284.9,363.7 L285.2,361.1 L285.5,358.5 L285.9,355.9 L286.2,353.2 L286.5,350.4 L286.8,347.6 L287.2,344.8 L287.5,341.9 L287.8,339.0 L288.1,336.1 L288.4,333.3 L288.8,330.4 L289.1,327.6 L289.4,324.9 L289.8,322.2 L290.1,319.6 L290.4,317.4 L290.7,315.2 L291.0,313.1 L291.4,311.0 L291.7,308.9 L292.1,306.8 L292.4,304.8 L292.7,302.8 L293.1,300.8 L293.4,298.8 L293.7,296.9 L294.0,295.0 L294.3,293.4 L294.5,291.8 L294.8,290.2 L295.0,288.6 L295.2,287.1 L295.5,285.6 L295.7,284.1 L295.9,282.6 L296.2,281.2 L296.4,279.8 L296.7,278.4 L297.0,277.0 L297.2,275.9 L297.5,274.7 L297.7,273.6 L298.0,272.5 L298.3,271.4 L298.5,270.3 L298.8,269.3 L299.1,268.3 L299.4,267.3 L299.8,266.3 L300.1,265.4 L300.5,264.5 L300.8,263.7 L301.2,262.9 L301.6,262.1 L302.0,261.3 L302.4,260.5 L302.8,259.7 L303.3,259.0 L303.7,258.4 L304.1,257.8 L304.6,257.4 L305.0,257.2 L305.4,257.1 L305.8,257.2 L306.2,257.4 L306.6,257.8 L307.1,258.4 L307.5,259.0 L307.9,259.7 L308.3,260.4 L308.8,261.2 L309.2,262.1 L309.6,262.9 L309.9,263.7 L310.3,264.5 L310.7,265.5 L311.1,266.6 L311.5,267.8 L311.9,269.0 L312.2,270.2 L312.6,271.5 L312.9,272.8 L313.2,274.1 L313.5,275.4 L313.7,276.7 L314.0,278.0 L314.3,279.3 L314.6,280.6 L314.8,281.9 L315.1,283.1 L315.3,284.4 L315.5,285.7 L315.7,287.0 L315.9,288.3 L316.1,289.6 L316.4,290.9 L316.6,292.3 L316.8,293.6 L317.0,295.0 L317.2,296.5 L317.4,298.0 L317.7,299.5 L317.9,301.0 L318.1,302.6 L318.3,304.1 L318.5,305.7 L318.8,307.3 L319.0,308.8 L319.2,310.4 L319.5,312.1 L319.7,313.7 L320.0,315.6 L320.3,317.5 L320.6,319.4 L321.0,321.3 L321.3,323.3 L321.7,325.3 L322.0,327.3 L322.4,329.3 L322.7,331.3 L323.0,333.3 L323.4,335.4 L323.7,337.4 L324.0,339.5 L324.3,341.6 L324.6,343.7 L325.0,345.9 L325.3,348.0 L325.6,350.2 L325.9,352.3 L326.2,354.5 L326.5,356.6 L326.9,358.7 L327.2,360.9 L327.6,363.0 L328.0,365.2 L328.4,367.3 L328.8,369.5 L329.2,371.6 L329.6,373.8 L330.0,375.9 L330.5,378.1 L330.9,380.2 L331.3,382.4 L331.7,384.5 L332.2,386.6 L332.6,388.7 L333.0,390.7 L333.4,392.8 L333.8,394.8 L334.2,396.9 L334.6,398.9 L335.0,401.0 L335.4,403.0 L335.8,404.9 L336.2,406.9 L336.7,408.8 L337.1,410.6 L337.5,412.4 L337.9,413.8 L338.2,415.2 L338.6,416.6 L339.0,418.0 L339.3,419.3 L339.7,420.6 L340.1,421.9 L340.5,423.1 L340.9,424.4 L341.2,425.6 L341.6,426.8 L342.0,428.0 L342.3,429.1 L342.6,430.1 L342.9,431.1 L343.3,432.1 L343.6,433.1 L343.9,434.1 L344.2,435.1 L344.5,436.1 L344.9,437.0 L345.2,438.0 L345.6,439.0 L346.0,440.0 L346.4,441.0 L346.9,442.1 L347.3,443.3 L347.7,444.4 L348.2,445.5 L348.6,446.6 L349.1,447.7 L349.6,448.7 L350.1,449.7 L350.7,450.6 L351.2,451.5 L351.8,452.2 L352.2,452.7 L352.7,453.1 L353.2,453.5 L353.6,453.8 L354.1,454.1 L354.6,454.5 L355.2,454.7 L355.7,455.0 L356.2,455.2 L356.7,455.4 L357.3,455.6 L357.8,455.8 L358.3,455.9 L358.8,456.1 L359.2,456.2 L359.7,456.2 L360.2,456.3 L360.7,456.3 L361.2,456.4 L361.7,456.4 L362.2,456.3 L362.7,456.3 L363.2,456.3 L363.7,456.2 L364.3,456.1 L365.0,455.9 L365.6,455.8 L366.3,455.6 L367.0,455.4 L367.7,455.1 L368.3,454.8 L369.0,454.6 L369.7,454.2 L370.3,453.9 L371.0,453.6 L371.6,453.2 L372.3,452.8 L373.0,452.3 L373.6,451.8 L374.3,451.3 L375.0,450.8 L375.6,450.2 L376.3,449.6 L376.9,449.0 L377.6,448.4 L378.2,447.7 L378.9,447.0 L379.5,446.3 L380.0,445.7 L381.5,443.9 L383.0,441.9 L384.5,439.7 L386.0,437.5 L387.5,435.3 L389.0,433.0 L390.5,430.6 L392.0,428.3 L393.5,425.8 L395.0,423.3 L396.5,420.8 L398.0,418.2 L399.5,415.7 L401.0,413.1 L402.5,410.6 L404.0,408.0 L404.4,407.4 L405.6,405.2 L406.9,403.1 L408.1,400.9 L409.4,398.7 L410.6,396.6 L411.9,394.4 L413.2,392.2 L414.4,390.0 L415.7,387.9 L416.9,385.7 L418.2,383.5 L419.4,381.4 L420.7,379.2 L421.9,377.0 L423.1,374.9 L424.4,372.7 L425.6,370.5 L426.9,368.4 L428.1,366.2 L429.4,364.1 L430.7,361.9 L431.9,359.8 L433.2,357.6 L434.4,355.5 L435.7,353.3 L437.0,351.2 L438.2,349.0 L439.5,346.9 L440.8,344.8 L442.1,342.6 L443.3,340.5 L444.6,338.4 L445.9,336.2 L447.2,334.1 L448.5,332.0 L449.8,329.9 L451.1,327.8 L452.4,325.6 L453.8,323.5 L455.1,321.4 L456.4,319.3 L457.8,317.2 L459.1,315.1 L460.5,313.1 L461.8,311.0 L463.2,308.9 L464.6,306.8 L465.9,304.7 L467.3,302.7 L468.7,300.6 L470.1,298.5 L471.6,296.5 L473.0,294.4 L474.4,292.4 L475.8,290.3 L477.3,288.3 L478.8,286.2 L480.2,284.2 L481.7,282.2 L483.2,280.1 L484.7,278.1 L486.2,276.1 L487.7,274.1 L489.3,272.1 L490.8,270.2 L492.4,268.2 L494.0,266.2 L495.6,264.3 L497.2,262.4 L498.8,260.5 L500.5,258.6 L502.1,256.7 L503.8,254.8 L505.5,253.0 L507.2,251.2 L508.9,249.4 L510.7,247.6 L512.4,245.9 L514.2,244.2 L516.0,242.5 L517.9,240.8 L519.7,239.2 L521.6,237.6 L523.5,236.0 L525.4,234.4 L527.4,232.9 L529.3,231.4 L531.3,230.0 L533.4,228.5 L535.4,227.2 L537.5,225.8 L539.6,224.5 L541.7,223.2 L543.9,222.0 L546.0,220.8 L548.3,219.7 L550.5,218.6 L552.8,217.5 L555.1,216.5 L557.4,215.5 L559.7,214.6 L562.1,213.7 L564.5,212.9 L566.9,212.1 L569.3,211.3 L571.8,210.7 L574.2,210.0 L576.7,209.4 L579.2,208.9 L581.6,208.4 L584.1,208.0 L586.6,207.6 L589.1,207.3 L591.6,207.0 L594.1,206.7 L596.6,206.5 L599.0,206.3 L601.5,206.2 L604.0,206.0 L606.5,205.9 L609.0,205.7 L611.4,205.6 L613.9,205.4 L616.4,205.3 L618.8,205.0 L621.3,204.8 L623.8,204.5 L626.2,204.2 L628.7,203.8 L631.1,203.4 L633.5,203.0 L636.0,202.5 L638.4,201.9 L640.8,201.3 L643.2,200.7 L645.6,200.0 L648.0,199.4 L650.4,198.6 L652.8,197.8 L655.1,197.0 L657.5,196.2 L659.8,195.3 L662.2,194.4 L664.5,193.5 L666.8,192.5 L669.1,191.5 L671.4,190.5 L673.7,189.4 L676.0,188.3 L678.2,187.2 L680.5,186.1 L682.7,184.9 L685.0,183.7 L687.2,182.5 L689.4,181.3 L691.5,180.1 L693.7,178.8 L695.9,177.5 L698.0,176.2 L700.1,174.9 L702.2,173.5 L704.3,172.2 L706.4,170.8 L708.5,169.4 L710.5,168.0 L712.6,166.5 L714.6,165.1 L716.6,163.6 L718.6,162.2 L720.6,160.7 L722.6,159.2 L724.5,157.6 L726.5,156.1 L728.4,154.5 L730.3,153.0 L732.3,151.4 L734.2,149.8 L736.1,148.2 L737.9,146.6 L739.8,144.9 L741.7,143.3 L743.5,141.6 L745.4,140.0 L747.2,138.3 L749.0,136.6 L750.8,134.9 L752.6,133.2 L754.4,131.5 L756.2,129.7 L758.0,128.0 L759.8,126.2 L761.5,124.5 L763.3,122.7 L765.0,120.9 L766.8,119.1 L768.5,117.3 L770.2,115.5 L772.0,113.7 L773.7,111.9 L775.4,110.1 L777.1,108.3 L778.8,106.4 L780.5,104.6 L782.2,102.7 L783.8,100.9 L785.5,99.0 L787.2,97.1 L788.8,95.3 L790.5,93.4 L792.2,91.5 L793.8,89.6 L795.5,87.8 L797.1,85.9 L798.7,84.0 L800.4,82.1 L802.0,80.2 L803.6,78.3 L805.3,76.4 L806.9,74.5 L808.5,72.6 L810.1,70.7 L811.8,68.8 L813.4,66.9 L815.0,65.0 L816.6,63.1 L818.2,61.1 L819.8,59.2 L821.5,57.3 L823.1,55.4 L824.7,53.5 L826.3,51.6 L827.9,49.7 L829.5,47.8 L831.1,46.0 L832.8,44.1 L834.4,42.2 L836.0,40.3 L837.6,38.4 L839.2,36.6 L840.9,34.7 L842.5,32.8 L844.1,31.0" stroke="#548235" stroke-width="2.2" fill="none" stroke-linejoin="round" stroke-linecap="round"/>
</g>
<path d="M623.6,405.9 h24.3" stroke="#ED7D31" stroke-width="2.1"/>
<rect x="632" y="452.1" width="7.8" height="7.8" rx="0.8" fill="#ED7D31"/>
<path d="M623.6,507.2 h24.3" stroke="#548235" stroke-width="2.1"/>
<circle cx="636.4" cy="557.8" r="3.85" fill="#548235"/>
<g font-size="37">
<text x="646.9" y="417.9">1bar</text>
<text x="646.9" y="467.5">1bar-Lisong</text>
<text x="648.6" y="517.2">5bar</text>
<text x="648.6" y="567.6">5bar-Wu</text>
</g>
<text x="339" y="705.6" font-size="37" textLength="283" lengthAdjust="spacingAndGlyphs">Temperature (kK)</text>
<text transform="translate(40.2,530.3) rotate(-90)" font-size="37" xml:space="preserve" textLength="494" lengthAdjust="spacingAndGlyphs">Thermal conductivity  (W/m/K)</text>
<path d="M1058.2,524.00 H1812.7 M1058.2,441.50 H1812.7 M1058.2,359.80 H1812.7 M1058.2,277.40 H1812.7 M1058.2,195.20 H1812.7 M1058.2,112.50 H1812.7 M1183.50,31.2 V606.6 M1309.40,31.2 V606.6 M1435.40,31.2 V606.6 M1560.80,31.2 V606.6 M1686.50,31.2 V606.6" stroke="#8c8c8c" stroke-width="1" stroke-dasharray="3.3 2.6" fill="none"/>
<path d="M1058.2,524.00 h10 M1058.2,441.50 h10 M1058.2,359.80 h10 M1058.2,277.40 h10 M1058.2,195.20 h10 M1058.2,112.50 h10 M1183.50,606.6 v-11 M1309.40,606.6 v-11 M1435.40,606.6 v-11 M1560.80,606.6 v-11 M1686.50,606.6 v-11" stroke="#474747" stroke-width="1.1" fill="none"/>
<rect x="1058.2" y="31.2" width="754.5" height="575.4" fill="none" stroke="#606060" stroke-width="1.45"/>
<g font-size="37"><text x="1018.6" y="617.4" text-anchor="middle">0</text><text x="1018.6" y="535.0" text-anchor="middle">1</text><text x="1018.6" y="452.5" text-anchor="middle">2</text><text x="1018.6" y="370.8" text-anchor="middle">3</text><text x="1018.6" y="288.4" text-anchor="middle">4</text><text x="1018.6" y="206.2" text-anchor="middle">5</text><text x="1018.6" y="123.5" text-anchor="middle">6</text><text x="1018.6" y="42.2" text-anchor="middle">7</text><text x="1058.2" y="660.6" text-anchor="middle">0</text><text x="1183.5" y="660.6" text-anchor="middle">5</text><text x="1309.4" y="660.6" text-anchor="middle">10</text><text x="1435.4" y="660.6" text-anchor="middle">15</text><text x="1560.8" y="660.6" text-anchor="middle">20</text><text x="1686.5" y="660.6" text-anchor="middle">25</text><text x="1812.7" y="660.6" text-anchor="middle">30</text></g>
<g clip-path="url(#cr)">
<g fill="#548235"><rect x="1064.4" y="601.8" width="7.8" height="7.8" rx="1.3"/><rect x="1073.1" y="600.2" width="7.8" height="7.8" rx="1.3"/><rect x="1086.0" y="601.8" width="7.8" height="7.8" rx="1.3"/><rect x="1093.0" y="600.6" width="7.8" height="7.8" rx="1.3"/><rect x="1103.5" y="598.3" width="7.8" height="7.8" rx="1.3"/><rect x="1108.9" y="584.4" width="7.8" height="7.8" rx="1.3"/><rect x="1112.9" y="566.9" width="7.8" height="7.8" rx="1.3"/><rect x="1116.4" y="549.3" width="7.8" height="7.8" rx="1.3"/><rect x="1118.8" y="533.3" width="7.8" height="7.8" rx="1.3"/><rect x="1120.7" y="475.4" width="7.8" height="7.8" rx="1.3"/><rect x="1121.1" y="456.4" width="7.8" height="7.8" rx="1.3"/><rect x="1123.5" y="439.5" width="7.8" height="7.8" rx="1.3"/><rect x="1127.0" y="464.9" width="7.8" height="7.8" rx="1.3"/><rect x="1127.7" y="476.6" width="7.8" height="7.8" rx="1.3"/><rect x="1129.3" y="488.8" width="7.8" height="7.8" rx="1.3"/><rect x="1130.5" y="497.7" width="7.8" height="7.8" rx="1.3"/><rect x="1132.9" y="539.7" width="7.8" height="7.8" rx="1.3"/><rect x="1135.2" y="574.4" width="7.8" height="7.8" rx="1.3"/><rect x="1141.1" y="590.8" width="7.8" height="7.8" rx="1.3"/><rect x="1142.2" y="591.9" width="7.8" height="7.8" rx="1.3"/><rect x="1154.0" y="590.8" width="7.8" height="7.8" rx="1.3"/><rect x="1156.3" y="590.1" width="7.8" height="7.8" rx="1.3"/><rect x="1168.0" y="588.0" width="7.8" height="7.8" rx="1.3"/><rect x="1173.9" y="584.4" width="7.8" height="7.8" rx="1.3"/><rect x="1184.4" y="568.5" width="7.8" height="7.8" rx="1.3"/><rect x="1185.6" y="564.5" width="7.8" height="7.8" rx="1.3"/><rect x="1197.3" y="540.4" width="7.8" height="7.8" rx="1.3"/><rect x="1198.0" y="538.0" width="7.8" height="7.8" rx="1.3"/><rect x="1203.7" y="512.9" width="7.8" height="7.8" rx="1.3"/><rect x="1206.7" y="493.5" width="7.8" height="7.8" rx="1.3"/><rect x="1207.4" y="487.6" width="7.8" height="7.8" rx="1.3"/><rect x="1212.1" y="464.9" width="7.8" height="7.8" rx="1.3"/><rect x="1213.3" y="457.8" width="7.8" height="7.8" rx="1.3"/><rect x="1218.7" y="436.8" width="7.8" height="7.8" rx="1.3"/><rect x="1221.3" y="426.9" width="7.8" height="7.8" rx="1.3"/><rect x="1223.9" y="409.5" width="7.8" height="7.8" rx="1.3"/><rect x="1227.2" y="391.1" width="7.8" height="7.8" rx="1.3"/><rect x="1228.5" y="381.5" width="7.8" height="7.8" rx="1.3"/><rect x="1233.2" y="368.5" width="7.8" height="7.8" rx="1.3"/><rect x="1234.5" y="365.2" width="7.8" height="7.8" rx="1.3"/><rect x="1240.7" y="355.6" width="7.8" height="7.8" rx="1.3"/><rect x="1242.3" y="356.1" width="7.8" height="7.8" rx="1.3"/><rect x="1249.3" y="365.2" width="7.8" height="7.8" rx="1.3"/><rect x="1253.7" y="376.3" width="7.8" height="7.8" rx="1.3"/><rect x="1255.2" y="385.4" width="7.8" height="7.8" rx="1.3"/><rect x="1257.6" y="401.0" width="7.8" height="7.8" rx="1.3"/><rect x="1260.7" y="416.1" width="7.8" height="7.8" rx="1.3"/><rect x="1262.8" y="425.7" width="7.8" height="7.8" rx="1.3"/><rect x="1266.9" y="444.5" width="7.8" height="7.8" rx="1.3"/><rect x="1269.7" y="454.9" width="7.8" height="7.8" rx="1.3"/><rect x="1272.8" y="469.0" width="7.8" height="7.8" rx="1.3"/><rect x="1275.4" y="480.2" width="7.8" height="7.8" rx="1.3"/><rect x="1281.6" y="494.9" width="7.8" height="7.8" rx="1.3"/><rect x="1292.4" y="509.0" width="7.8" height="7.8" rx="1.3"/><rect x="1298.3" y="511.7" width="7.8" height="7.8" rx="1.3"/><rect x="1310.2" y="506.5" width="7.8" height="7.8" rx="1.3"/><rect x="1321.3" y="496.1" width="7.8" height="7.8" rx="1.3"/><rect x="1332.4" y="482.0" width="7.8" height="7.8" rx="1.3"/><rect x="1335.8" y="476.5" width="7.8" height="7.8" rx="1.3"/><rect x="1344.2" y="463.8" width="7.8" height="7.8" rx="1.3"/><rect x="1356.1" y="446.5" width="7.8" height="7.8" rx="1.3"/><rect x="1361.4" y="437.5" width="7.8" height="7.8" rx="1.3"/><rect x="1368.3" y="427.3" width="7.8" height="7.8" rx="1.3"/><rect x="1379.0" y="410.1" width="7.8" height="7.8" rx="1.3"/><rect x="1385.0" y="401.7" width="7.8" height="7.8" rx="1.3"/><rect x="1396.1" y="387.2" width="7.8" height="7.8" rx="1.3"/><rect x="1401.2" y="377.9" width="7.8" height="7.8" rx="1.3"/><rect x="1408.8" y="363.9" width="7.8" height="7.8" rx="1.3"/><rect x="1415.0" y="354.3" width="7.8" height="7.8" rx="1.3"/><rect x="1422.3" y="343.2" width="7.8" height="7.8" rx="1.3"/><rect x="1430.1" y="333.9" width="7.8" height="7.8" rx="1.3"/><rect x="1438.8" y="320.5" width="7.8" height="7.8" rx="1.3"/><rect x="1446.1" y="309.9" width="7.8" height="7.8" rx="1.3"/><rect x="1452.3" y="302.3" width="7.8" height="7.8" rx="1.3"/><rect x="1462.8" y="293.2" width="7.8" height="7.8" rx="1.3"/><rect x="1470.1" y="285.4" width="7.8" height="7.8" rx="1.3"/><rect x="1478.3" y="274.3" width="7.8" height="7.8" rx="1.3"/><rect x="1486.2" y="264.2" width="7.8" height="7.8" rx="1.3"/><rect x="1500.9" y="249.9" width="7.8" height="7.8" rx="1.3"/><rect x="1504.9" y="247.3" width="7.8" height="7.8" rx="1.3"/><rect x="1522.6" y="233.8" width="7.8" height="7.8" rx="1.3"/><rect x="1527.7" y="231.2" width="7.8" height="7.8" rx="1.3"/><rect x="1539.0" y="226.0" width="7.8" height="7.8" rx="1.3"/><rect x="1548.5" y="222.5" width="7.8" height="7.8" rx="1.3"/><rect x="1564.4" y="214.7" width="7.8" height="7.8" rx="1.3"/><rect x="1570.5" y="212.3" width="7.8" height="7.8" rx="1.3"/><rect x="1593.8" y="208.4" width="7.8" height="7.8" rx="1.3"/><rect x="1616.4" y="200.6" width="7.8" height="7.8" rx="1.3"/><rect x="1631.8" y="193.6" width="7.8" height="7.8" rx="1.3"/><rect x="1634.9" y="191.3" width="7.8" height="7.8" rx="1.3"/><rect x="1652.5" y="181.7" width="7.8" height="7.8" rx="1.3"/><rect x="1658.8" y="178.5" width="7.8" height="7.8" rx="1.3"/><rect x="1678.1" y="162.3" width="7.8" height="7.8" rx="1.3"/><rect x="1680.9" y="159.8" width="7.8" height="7.8" rx="1.3"/><rect x="1702.2" y="137.6" width="7.8" height="7.8" rx="1.3"/><rect x="1706.5" y="133.4" width="7.8" height="7.8" rx="1.3"/><rect x="1714.4" y="124.6" width="7.8" height="7.8" rx="1.3"/><rect x="1722.1" y="116.3" width="7.8" height="7.8" rx="1.3"/><rect x="1730.6" y="106.4" width="7.8" height="7.8" rx="1.3"/><rect x="1738.3" y="96.2" width="7.8" height="7.8" rx="1.3"/><rect x="1747.7" y="86.5" width="7.8" height="7.8" rx="1.3"/><rect x="1758.2" y="77.2" width="7.8" height="7.8" rx="1.3"/><rect x="1767.0" y="66.4" width="7.8" height="7.8" rx="1.3"/><rect x="1775.2" y="53.6" width="7.8" height="7.8" rx="1.3"/><rect x="1782.6" y="42.2" width="7.8" height="7.8" rx="1.3"/><rect x="1788.0" y="37.4" width="7.8" height="7.8" rx="1.3"/><rect x="1794.6" y="28.9" width="7.8" height="7.8" rx="1.3"/></g>
<path d="M1066.4,605.2 L1067.4,604.9 L1068.3,604.6 L1069.3,604.3 L1070.3,604.0 L1071.3,603.7 L1072.2,603.4 L1073.2,603.1 L1074.2,602.8 L1075.2,602.5 L1076.2,602.3 L1077.1,602.0 L1078.1,601.7 L1079.1,601.5 L1080.1,601.2 L1081.0,601.0 L1082.0,600.8 L1083.0,600.5 L1084.0,600.3 L1085.0,600.1 L1086.0,599.8 L1087.0,599.6 L1087.9,599.4 L1088.9,599.1 L1089.9,598.9 L1090.9,598.7 L1091.9,598.4 L1092.9,598.2 L1093.9,597.9 L1095.0,597.7 L1096.0,597.5 L1097.0,597.2 L1098.0,597.0 L1098.9,596.7 L1099.9,596.4 L1100.8,596.1 L1101.6,595.8 L1102.3,595.5 L1102.9,595.3 L1103.6,595.0 L1104.2,594.8 L1104.8,594.5 L1105.4,594.2 L1105.9,593.9 L1106.5,593.6 L1107.0,593.3 L1107.6,593.0 L1108.1,592.6 L1108.6,592.3 L1109.0,592.0 L1109.5,591.7 L1109.9,591.3 L1110.4,591.0 L1110.8,590.7 L1111.2,590.3 L1111.6,590.0 L1111.9,589.6 L1112.3,589.1 L1112.7,588.7 L1113.0,588.2 L1113.3,587.6 L1113.8,586.6 L1114.2,585.4 L1114.6,584.1 L1114.9,582.8 L1115.2,581.3 L1115.5,579.8 L1115.7,578.2 L1115.9,576.6 L1116.2,575.0 L1116.4,573.3 L1116.6,571.7 L1116.8,570.1 L1117.1,568.3 L1117.3,566.4 L1117.5,564.6 L1117.8,562.7 L1118.0,560.8 L1118.2,558.8 L1118.3,556.9 L1118.5,554.9 L1118.7,552.8 L1118.9,550.8 L1119.0,548.7 L1119.2,546.6 L1119.4,544.1 L1119.6,541.5 L1119.8,538.8 L1120.0,536.1 L1120.2,533.4 L1120.4,530.6 L1120.6,527.8 L1120.7,525.0 L1120.9,522.2 L1121.1,519.4 L1121.3,516.6 L1121.5,513.8 L1121.7,510.9 L1121.9,507.9 L1122.1,504.9 L1122.3,501.9 L1122.5,498.9 L1122.7,495.8 L1122.9,492.8 L1123.1,489.8 L1123.3,486.9 L1123.5,484.1 L1123.7,481.3 L1123.9,478.6 L1124.0,476.5 L1124.2,474.4 L1124.3,472.3 L1124.4,470.3 L1124.5,468.3 L1124.7,466.3 L1124.8,464.4 L1124.9,462.5 L1125.0,460.6 L1125.2,458.8 L1125.3,457.0 L1125.5,455.2 L1125.6,453.7 L1125.8,452.1 L1125.9,450.4 L1126.1,448.7 L1126.2,447.1 L1126.4,445.4 L1126.6,444.0 L1126.8,442.6 L1126.9,441.5 L1127.1,440.6 L1127.2,440.1 L1127.4,439.9 L1127.6,440.1 L1127.7,440.6 L1127.9,441.5 L1128.0,442.6 L1128.2,443.9 L1128.3,445.4 L1128.5,447.0 L1128.6,448.7 L1128.8,450.4 L1128.9,452.1 L1129.1,453.7 L1129.2,455.2 L1129.4,457.1 L1129.5,459.1 L1129.7,461.2 L1129.8,463.3 L1130.0,465.4 L1130.1,467.6 L1130.3,469.8 L1130.4,472.1 L1130.5,474.3 L1130.6,476.6 L1130.8,478.8 L1130.9,481.0 L1131.0,483.3 L1131.2,485.6 L1131.3,487.9 L1131.4,490.3 L1131.6,492.6 L1131.7,495.0 L1131.8,497.3 L1132.0,499.7 L1132.1,502.0 L1132.2,504.4 L1132.4,506.7 L1132.5,509.1 L1132.6,511.5 L1132.8,513.8 L1132.9,516.2 L1133.1,518.6 L1133.2,521.0 L1133.4,523.3 L1133.5,525.7 L1133.7,528.0 L1133.8,530.4 L1134.0,532.7 L1134.2,535.0 L1134.4,537.2 L1134.6,539.2 L1134.7,541.3 L1134.9,543.3 L1135.1,545.3 L1135.3,547.3 L1135.5,549.2 L1135.6,551.2 L1135.8,553.1 L1136.1,555.1 L1136.3,557.0 L1136.5,558.8 L1136.8,560.7 L1137.0,562.4 L1137.3,564.1 L1137.5,565.8 L1137.8,567.6 L1138.0,569.3 L1138.2,571.0 L1138.5,572.7 L1138.8,574.2 L1139.1,575.7 L1139.5,577.1 L1139.9,578.3 L1140.3,579.4 L1140.6,579.9 L1140.8,580.4 L1141.1,580.9 L1141.3,581.4 L1141.6,581.8 L1141.9,582.2 L1142.1,582.6 L1142.4,582.9 L1142.8,583.3 L1143.1,583.6 L1143.4,583.8 L1143.8,584.1 L1144.1,584.3 L1144.5,584.5 L1144.8,584.7 L1145.2,584.8 L1145.6,584.9 L1146.0,585.0 L1146.4,585.1 L1146.8,585.1 L1147.2,585.2 L1147.6,585.2 L1148.1,585.3 L1148.5,585.3 L1149.2,585.3 L1149.9,585.3 L1150.6,585.2 L1151.4,585.1 L1152.2,585.0 L1153.0,584.8 L1153.8,584.7 L1154.7,584.5 L1155.5,584.3 L1156.3,584.1 L1157.1,583.9 L1157.9,583.7 L1158.7,583.5 L1159.5,583.3 L1160.2,583.1 L1161.0,582.8 L1161.8,582.6 L1162.5,582.3 L1163.3,582.1 L1164.1,581.8 L1164.9,581.5 L1165.7,581.2 L1166.4,580.9 L1167.2,580.6 L1168.0,580.3 L1168.8,579.9 L1169.6,579.6 L1170.4,579.2 L1171.2,578.9 L1172.0,578.5 L1172.8,578.1 L1173.6,577.7 L1174.4,577.3 L1175.2,576.8 L1175.9,576.4 L1176.6,575.9 L1177.2,575.4 L1177.9,575.0 L1178.5,574.5 L1179.1,574.0 L1179.7,573.5 L1180.3,573.0 L1180.8,572.5 L1181.4,571.9 L1181.9,571.3 L1182.5,570.8 L1183.0,570.1 L1183.6,569.5 L1184.2,568.7 L1184.9,567.9 L1185.5,567.0 L1186.1,566.1 L1186.7,565.1 L1187.3,564.2 L1187.8,563.2 L1188.4,562.2 L1189.0,561.2 L1189.6,560.2 L1190.1,559.3 L1190.7,558.3 L1191.3,557.4 L1191.9,556.4 L1192.5,555.5 L1193.1,554.6 L1193.7,553.6 L1194.3,552.7 L1194.9,551.8 L1195.5,550.8 L1196.1,549.8 L1196.6,548.8 L1197.2,547.7 L1197.7,546.6 L1198.3,545.2 L1199.0,543.8 L1199.6,542.4 L1200.2,540.9 L1200.8,539.4 L1201.3,537.8 L1201.9,536.2 L1202.5,534.6 L1203.0,533.0 L1203.6,531.3 L1204.1,529.6 L1204.7,527.9 L1205.3,525.8 L1206.0,523.5 L1206.6,521.2 L1207.3,518.9 L1207.9,516.5 L1208.5,514.0 L1209.1,511.6 L1209.6,509.1 L1210.2,506.7 L1210.8,504.3 L1211.3,502.0 L1211.8,499.7 L1212.2,497.7 L1212.7,495.7 L1213.1,493.7 L1213.5,491.7 L1213.9,489.8 L1214.3,487.8 L1214.7,485.9 L1215.1,483.9 L1215.5,482.0 L1215.8,480.1 L1216.2,478.2 L1216.5,476.3 L1216.8,474.5 L1217.1,472.8 L1217.3,471.0 L1217.5,469.3 L1217.8,467.6 L1218.0,465.9 L1218.2,464.1 L1218.5,462.4 L1218.7,460.6 L1218.9,458.8 L1219.2,456.9 L1219.5,455.0 L1219.9,452.6 L1220.2,450.0 L1220.6,447.4 L1221.1,444.8 L1221.5,442.1 L1221.9,439.4 L1222.4,436.6 L1222.8,433.9 L1223.3,431.1 L1223.7,428.4 L1224.2,425.7 L1224.6,423.0 L1225.0,420.4 L1225.5,417.8 L1225.9,415.2 L1226.3,412.7 L1226.8,410.1 L1227.2,407.5 L1227.6,404.9 L1228.1,402.4 L1228.5,399.8 L1228.9,397.2 L1229.4,394.5 L1229.8,391.9 L1230.2,389.1 L1230.7,386.3 L1231.1,383.5 L1231.5,380.7 L1232.0,377.9 L1232.4,375.0 L1232.8,372.2 L1233.3,369.3 L1233.7,366.5 L1234.1,363.7 L1234.6,360.9 L1235.0,358.2 L1235.4,355.7 L1235.9,353.1 L1236.3,350.6 L1236.7,348.1 L1237.1,345.5 L1237.6,343.0 L1238.0,340.6 L1238.4,338.1 L1238.9,335.6 L1239.3,333.2 L1239.8,330.8 L1240.2,328.4 L1240.6,326.2 L1241.0,324.1 L1241.4,321.9 L1241.8,319.7 L1242.2,317.5 L1242.6,315.4 L1243.1,313.3 L1243.5,311.2 L1243.9,309.2 L1244.4,307.3 L1244.9,305.5 L1245.4,303.7 L1245.8,302.4 L1246.2,301.1 L1246.6,299.8 L1246.9,298.6 L1247.4,297.3 L1247.8,296.1 L1248.2,295.0 L1248.7,294.0 L1249.1,293.0 L1249.6,292.1 L1250.1,291.3 L1250.6,290.7 L1250.9,290.4 L1251.2,290.1 L1251.5,289.8 L1251.9,289.6 L1252.2,289.4 L1252.5,289.2 L1252.8,289.0 L1253.2,288.9 L1253.5,288.8 L1253.8,288.7 L1254.2,288.7 L1254.5,288.7 L1254.8,288.8 L1255.2,288.9 L1255.5,289.1 L1255.9,289.3 L1256.2,289.5 L1256.5,289.8 L1256.8,290.1 L1257.2,290.4 L1257.5,290.8 L1257.8,291.2 L1258.1,291.6 L1258.4,292.0 L1258.9,292.8 L1259.4,293.7 L1259.8,294.7 L1260.3,295.8 L1260.7,297.0 L1261.1,298.2 L1261.5,299.5 L1261.9,300.9 L1262.3,302.2 L1262.7,303.6 L1263.1,304.9 L1263.5,306.3 L1264.0,308.0 L1264.5,309.8 L1264.9,311.7 L1265.4,313.6 L1265.8,315.6 L1266.2,317.5 L1266.6,319.6 L1267.0,321.6 L1267.5,323.6 L1267.9,325.7 L1268.3,327.7 L1268.7,329.7 L1269.1,331.8 L1269.6,333.9 L1270.0,336.1 L1270.5,338.2 L1270.9,340.4 L1271.3,342.6 L1271.8,344.8 L1272.2,346.9 L1272.6,349.1 L1273.0,351.3 L1273.5,353.4 L1273.9,355.6 L1274.3,357.7 L1274.8,359.9 L1275.2,362.0 L1275.6,364.1 L1276.0,366.3 L1276.5,368.4 L1276.9,370.5 L1277.3,372.7 L1277.8,374.9 L1278.2,377.1 L1278.7,379.3 L1279.1,381.5 L1279.6,384.0 L1280.1,386.6 L1280.7,389.2 L1281.3,391.9 L1281.8,394.6 L1282.4,397.2 L1283.0,399.9 L1283.5,402.6 L1284.1,405.2 L1284.6,407.8 L1285.1,410.3 L1285.6,412.7 L1286.0,414.7 L1286.4,416.7 L1286.7,418.6 L1287.1,420.6 L1287.4,422.5 L1287.8,424.4 L1288.2,426.2 L1288.5,428.0 L1288.9,429.8 L1289.2,431.5 L1289.6,433.2 L1290.0,434.8 L1290.3,436.0 L1290.6,437.2 L1290.9,438.4 L1291.2,439.6 L1291.5,440.7 L1291.9,441.8 L1292.2,442.9 L1292.5,443.9 L1292.9,445.0 L1293.3,446.0 L1293.7,447.1 L1294.1,448.1 L1294.5,449.0 L1294.9,450.0 L1295.4,450.9 L1295.9,451.8 L1296.3,452.7 L1296.8,453.6 L1297.3,454.5 L1297.8,455.4 L1298.4,456.2 L1298.9,457.0 L1299.5,457.8 L1300.0,458.5 L1300.5,459.1 L1300.9,459.7 L1301.4,460.3 L1301.9,460.8 L1302.3,461.4 L1302.8,461.9 L1303.3,462.4 L1303.8,462.9 L1304.3,463.3 L1304.9,463.7 L1305.4,464.1 L1305.9,464.4 L1306.3,464.6 L1306.8,464.9 L1307.2,465.1 L1307.6,465.2 L1308.1,465.4 L1308.5,465.5 L1308.9,465.6 L1309.4,465.7 L1309.8,465.8 L1310.2,465.9 L1310.7,465.9 L1311.1,465.9 L1311.5,465.9 L1312.0,465.8 L1312.4,465.8 L1312.8,465.7 L1313.3,465.6 L1313.7,465.4 L1314.1,465.3 L1314.6,465.1 L1315.0,465.0 L1315.4,464.8 L1315.9,464.6 L1316.3,464.4 L1316.8,464.2 L1317.3,463.9 L1317.8,463.6 L1318.3,463.4 L1318.8,463.1 L1319.3,462.7 L1319.8,462.4 L1320.3,462.1 L1320.8,461.7 L1321.2,461.4 L1321.7,461.0 L1322.2,460.7 L1322.7,460.3 L1323.2,459.9 L1323.7,459.5 L1324.2,459.1 L1324.7,458.7 L1325.2,458.3 L1325.7,457.9 L1326.2,457.4 L1326.7,457.0 L1327.1,456.5 L1327.6,456.1 L1328.1,455.6 L1328.6,455.1 L1329.1,454.6 L1329.7,454.0 L1330.2,453.5 L1330.7,453.0 L1331.2,452.4 L1331.7,451.8 L1332.2,451.3 L1332.7,450.7 L1333.1,450.1 L1333.6,449.5 L1334.1,448.9 L1334.6,448.3 L1335.1,447.6 L1335.6,447.0 L1336.1,446.3 L1336.6,445.6 L1337.1,444.9 L1337.6,444.2 L1338.1,443.5 L1338.6,442.8 L1339.0,442.1 L1339.5,441.4 L1340.0,440.7 L1340.5,439.9 L1341.0,439.2 L1341.5,438.4 L1342.0,437.7 L1342.5,436.9 L1343.0,436.2 L1343.5,435.4 L1344.0,434.6 L1344.5,433.8 L1345.0,433.0 L1345.5,432.2 L1346.0,431.4 L1346.6,430.5 L1347.2,429.5 L1347.8,428.5 L1348.4,427.5 L1349.0,426.5 L1349.6,425.5 L1350.2,424.5 L1350.9,423.5 L1351.5,422.4 L1352.1,421.4 L1352.7,420.4 L1353.3,419.4 L1353.9,418.5 L1354.4,417.5 L1355.0,416.6 L1355.5,415.7 L1356.0,414.8 L1356.6,413.9 L1357.1,413.0 L1357.7,412.0 L1358.2,411.1 L1358.8,410.1 L1359.4,409.1 L1360.0,408.0 L1360.8,406.6 L1361.7,405.1 L1362.6,403.6 L1363.5,402.0 L1364.4,400.4 L1365.4,398.8 L1366.3,397.1 L1367.3,395.4 L1368.3,393.8 L1369.2,392.1 L1370.2,390.5 L1371.1,388.9 L1372.0,387.3 L1373.0,385.8 L1373.9,384.2 L1374.8,382.6 L1375.7,381.0 L1376.7,379.5 L1377.6,377.9 L1378.5,376.3 L1379.4,374.7 L1380.4,373.1 L1381.3,371.6 L1382.2,370.0 L1383.1,368.4 L1384.1,366.8 L1385.0,365.3 L1385.9,363.7 L1386.8,362.1 L1387.8,360.5 L1388.7,358.9 L1389.6,357.4 L1390.5,355.8 L1391.5,354.2 L1392.4,352.7 L1393.3,351.1 L1394.2,349.6 L1395.1,348.1 L1396.1,346.6 L1397.0,345.1 L1397.9,343.6 L1398.8,342.1 L1399.7,340.6 L1400.7,339.2 L1401.6,337.7 L1402.5,336.2 L1403.5,334.8 L1404.4,333.3 L1405.3,331.9 L1406.3,330.5 L1407.2,329.1 L1408.0,327.9 L1409.5,325.7 L1411.0,323.4 L1412.5,321.2 L1414.0,319.0 L1415.5,316.7 L1417.0,314.4 L1418.5,312.1 L1420.0,309.9 L1421.5,307.6 L1423.0,305.3 L1424.5,303.1 L1426.0,300.9 L1427.5,298.7 L1429.0,296.5 L1430.5,294.4 L1432.0,292.2 L1433.2,290.5 L1434.6,288.5 L1436.0,286.4 L1437.5,284.3 L1438.9,282.3 L1440.4,280.2 L1441.9,278.1 L1443.3,276.1 L1444.8,274.0 L1446.3,271.9 L1447.7,269.8 L1449.2,267.8 L1450.7,265.7 L1452.2,263.7 L1453.8,261.6 L1455.3,259.5 L1456.8,257.5 L1458.3,255.5 L1459.9,253.4 L1461.4,251.4 L1463.0,249.4 L1464.6,247.4 L1466.2,245.4 L1467.8,243.4 L1469.4,241.5 L1471.0,239.5 L1472.6,237.6 L1474.3,235.6 L1476.0,233.7 L1477.6,231.8 L1479.3,230.0 L1481.0,228.1 L1482.7,226.3 L1484.5,224.4 L1486.2,222.6 L1488.0,220.9 L1489.7,219.1 L1491.5,217.4 L1493.3,215.7 L1495.1,214.0 L1497.0,212.3 L1498.8,210.7 L1500.7,209.1 L1502.6,207.5 L1504.5,206.0 L1506.4,204.5 L1508.4,203.0 L1510.3,201.5 L1512.3,200.1 L1514.3,198.7 L1516.4,197.3 L1518.4,196.0 L1520.5,194.7 L1522.6,193.5 L1524.7,192.3 L1526.8,191.1 L1528.9,189.9 L1531.1,188.8 L1533.3,187.8 L1535.5,186.7 L1537.8,185.8 L1540.1,184.8 L1542.3,183.9 L1544.7,183.1 L1547.0,182.3 L1549.4,181.5 L1551.8,180.8 L1554.2,180.1 L1556.6,179.4 L1559.0,178.8 L1561.5,178.2 L1563.9,177.6 L1566.4,177.0 L1568.9,176.5 L1571.4,176.0 L1573.9,175.5 L1576.4,175.0 L1578.9,174.5 L1581.4,174.1 L1583.9,173.6 L1586.4,173.1 L1588.9,172.7 L1591.4,172.2 L1593.9,171.7 L1596.4,171.3 L1598.9,170.8 L1601.4,170.3 L1603.8,169.8 L1606.3,169.3 L1608.7,168.7 L1611.1,168.2 L1613.6,167.6 L1616.0,167.0 L1618.4,166.4 L1620.7,165.8 L1623.1,165.1 L1625.5,164.4 L1627.8,163.7 L1630.2,163.0 L1632.5,162.2 L1634.8,161.4 L1637.1,160.6 L1639.4,159.8 L1641.6,158.9 L1643.9,157.9 L1646.1,157.0 L1648.4,156.0 L1650.6,155.0 L1652.8,153.9 L1654.9,152.8 L1657.1,151.6 L1659.3,150.4 L1661.4,149.2 L1663.5,147.9 L1665.6,146.6 L1667.7,145.2 L1669.8,143.8 L1671.8,142.3 L1673.9,140.8 L1675.9,139.3 L1677.9,137.7 L1679.9,136.1 L1681.9,134.5 L1683.9,132.8 L1685.8,131.2 L1687.8,129.5 L1689.7,127.8 L1691.7,126.2 L1693.6,124.5 L1695.5,122.8 L1697.4,121.1 L1699.3,119.4 L1701.2,117.8 L1703.1,116.1 L1705.0,114.5 L1706.8,112.8 L1708.7,111.2 L1710.5,109.5 L1712.4,107.9 L1714.2,106.3 L1716.0,104.6 L1717.9,103.0 L1719.7,101.3 L1721.5,99.7 L1723.3,98.0 L1725.1,96.4 L1726.9,94.7 L1728.7,93.0 L1730.4,91.3 L1732.2,89.6 L1734.0,87.8 L1735.7,86.1 L1737.5,84.3 L1739.2,82.5 L1741.0,80.7 L1742.7,78.9 L1744.5,77.1 L1746.2,75.3 L1747.9,73.5 L1749.7,71.7 L1751.4,69.8 L1753.1,68.0 L1754.9,66.2 L1756.6,64.3 L1758.4,62.5 L1760.1,60.7 L1761.9,58.9 L1763.6,57.1 L1765.4,55.3 L1767.2,53.5 L1768.9,51.8 L1770.7,50.0 L1772.5,48.3 L1774.3,46.6 L1776.2,44.9 L1778.0,43.2 L1779.8,41.5 L1781.7,39.9 L1783.5,38.3 L1785.4,36.7 L1787.3,35.2 L1789.2,33.7 L1791.2,32.2 L1793.1,30.7" stroke="#548235" stroke-width="2.2" fill="none" stroke-linejoin="round" stroke-linecap="round"/>
</g>
<path d="M1603.8,461.2 h24" stroke="#548235" stroke-width="2"/>
<rect x="1612" y="504" width="8" height="8" rx="0.8" fill="#548235"/>
<g font-size="37">
<text x="1628" y="473.2">5bar</text>
<text x="1628" y="519.6">5bar-Wu</text>
</g>
<text x="1294" y="705.6" font-size="37" textLength="281.5" lengthAdjust="spacingAndGlyphs">Temperature (kK)</text>
<text transform="translate(993.8,521.3) rotate(-90)" font-size="37" textLength="483" lengthAdjust="spacingAndGlyphs">Thermal conductivity (W/m/K)</text>
</g>
<g font-family="'Liberation Serif', serif" font-weight="normal" fill="#000"><text transform="translate(291.47,800.31) scale(0.8667,1.1190)" font-size="46">(</text><text transform="translate(307.10,799.10) scale(1.1000,0.9500)" font-size="46">a</text><text transform="translate(331.12,800.31) scale(0.7769,1.1190)" font-size="46">)</text><text transform="translate(361.51,799.00) scale(0.9734,1.0000)" font-size="46">10%</text><text transform="translate(459.78,799.00) scale(1.0593,1.0000)" font-size="46">C</text><text transform="translate(493.60,805.60) scale(0.9750,1.0000)" font-size="33">4</text><text transform="translate(512.46,799.00) scale(1.1435,1.0000)" font-size="46">F</text><text transform="translate(541.27,805.60) scale(1.1143,1.0000)" font-size="33">7</text><text transform="translate(561.68,799.00) scale(1.0220,1.0000)" font-size="46">N.</text><text transform="translate(1243.48,800.31) scale(0.9083,1.1190)" font-size="46">(</text><text transform="translate(1260.00,799.30) scale(1.0227,0.9758)" font-size="46">b</text><text transform="translate(1285.57,800.31) scale(0.8308,1.1190)" font-size="46">)</text><text transform="translate(1316.46,799.00) scale(0.9704,1.0000)" font-size="46">20%</text><text transform="translate(1414.59,799.00) scale(1.0556,1.0000)" font-size="46">C</text><text transform="translate(1448.40,805.60) scale(0.9750,1.0000)" font-size="33">4</text><text transform="translate(1467.26,799.00) scale(1.1435,1.0000)" font-size="46">F</text><text transform="translate(1496.07,805.60) scale(1.1143,1.0000)" font-size="33">7</text><text transform="translate(1516.90,799.00) scale(1.0000,1.0000)" font-size="46">N.</text></g>
</svg>
</body></html>
